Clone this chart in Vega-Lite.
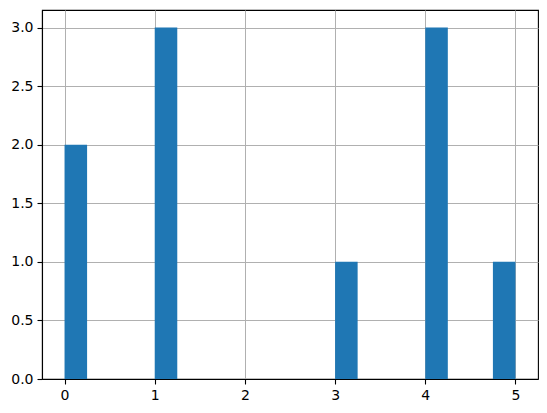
{
  "$schema": "https://vega.github.io/schema/vega-lite/v6.json",
  "width": 496,
  "height": 369,
  "autosize": "none",
  "padding": {"left": 42, "top": 10, "right": 9, "bottom": 34},
  "background": "white",
  "config": {
    "view": {"stroke": "black", "strokeWidth": 1.1},
    "axis": {
      "grid": true,
      "gridColor": "#b0b0b0",
      "gridWidth": 1,
      "domainColor": "black",
      "domainWidth": 1.1,
      "tickColor": "black",
      "tickSize": 5,
      "tickWidth": 1.1,
      "labelFont": "DejaVu Sans",
      "labelFontSize": 14,
      "labelColor": "black",
      "labelPadding": 4,
      "title": null,
      "zindex": 1
    }
  },
  "data": {
    "values": [
      {"bin_start": 0.0, "bin_end": 0.25, "count": 2},
      {"bin_start": 1.0, "bin_end": 1.25, "count": 3},
      {"bin_start": 3.0, "bin_end": 3.25, "count": 1},
      {"bin_start": 4.0, "bin_end": 4.25, "count": 3},
      {"bin_start": 4.75, "bin_end": 5.0, "count": 1}
    ]
  },
  "mark": {"type": "bar", "color": "#1f77b4"},
  "encoding": {
    "x": {
      "field": "bin_start",
      "type": "quantitative",
      "scale": {"domain": [-0.25, 5.25], "nice": false, "zero": false},
      "axis": {"values": [0, 1, 2, 3, 4, 5], "format": "d"}
    },
    "x2": {"field": "bin_end"},
    "y": {
      "field": "count",
      "type": "quantitative",
      "scale": {"domain": [0, 3.15], "nice": false},
      "axis": {"values": [0, 0.5, 1, 1.5, 2, 2.5, 3], "format": ".1f"}
    },
    "y2": {"datum": 0}
  }
}
